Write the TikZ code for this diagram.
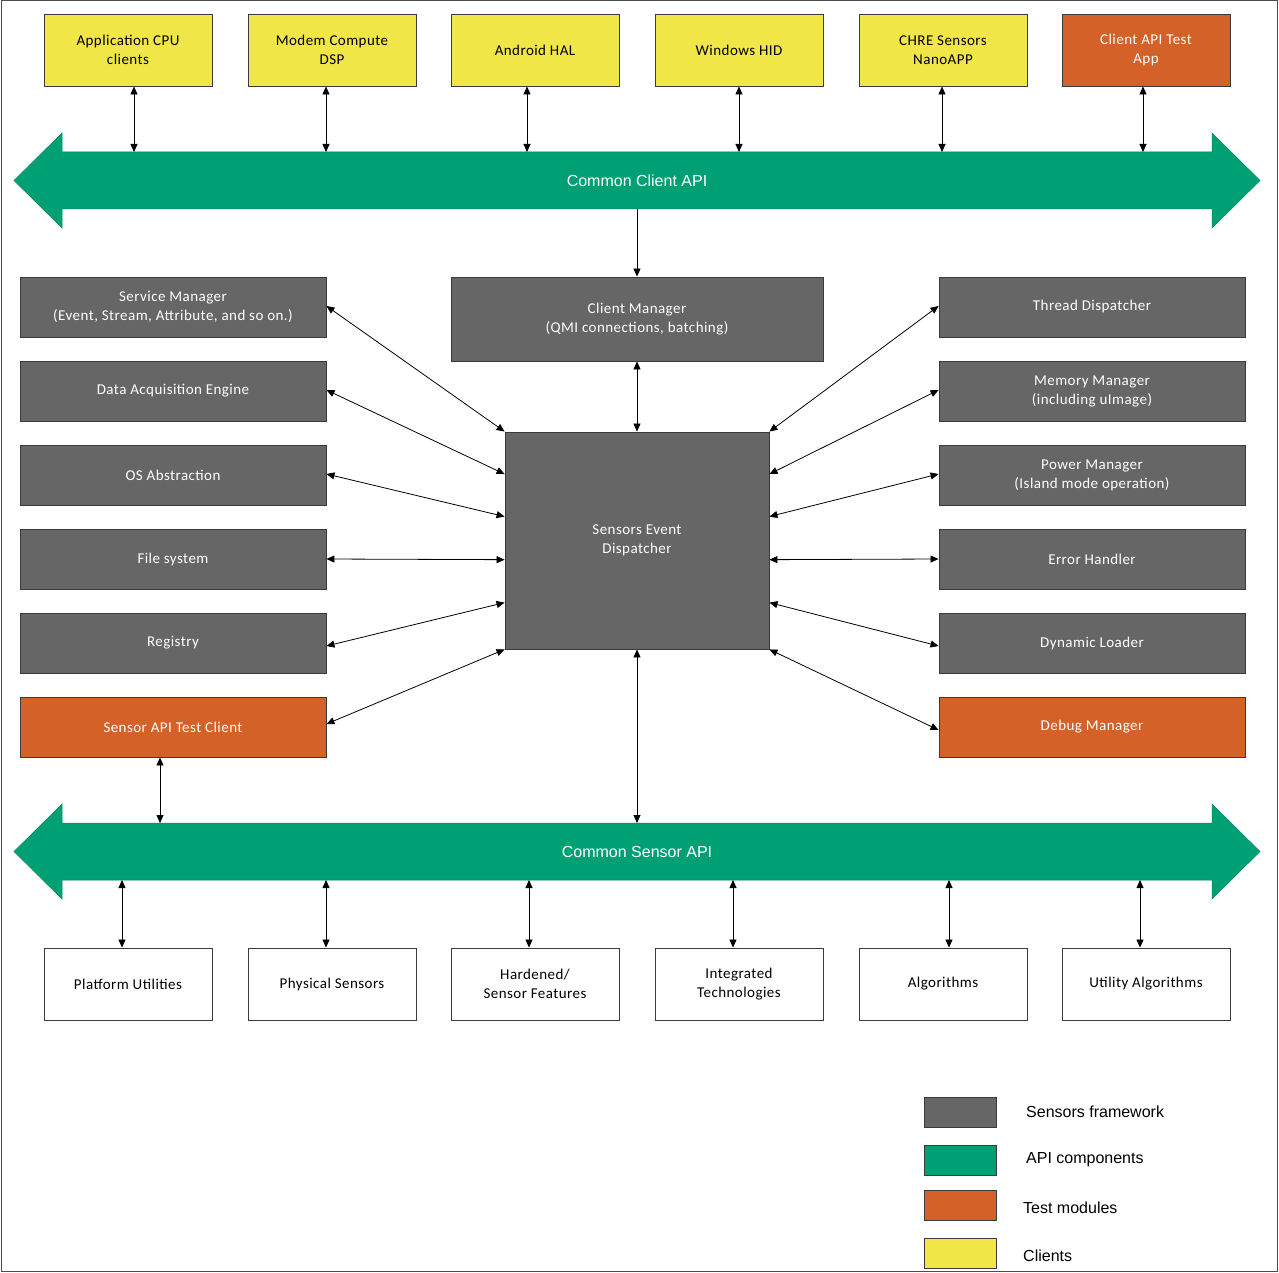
\documentclass[tikz,border=0pt]{standalone}
\usepackage{fontspec}
\setmainfont{Carlito}
\newfontfamily\boxfont{Carlito}[LetterSpace=3]
\newfontfamily\arialfont{Liberation Sans}
\usetikzlibrary{arrows.meta,calc}
\definecolor{cyel}{HTML}{F1E647}
\definecolor{corg}{HTML}{D46127}
\definecolor{cgry}{HTML}{666666}
\definecolor{cgrn}{HTML}{00A074}
\definecolor{cedge}{HTML}{3A3A3A}
\begin{document}
\begin{tikzpicture}[x=1pt,y=-1pt,
  box/.style={draw=cedge, line width=0.9pt, minimum width=168pt, minimum height=72pt,
    align=center, font=\boxfont\fontsize{15}{19}\selectfont, inner sep=0pt},
  client/.style={box, fill=cyel, text=black},
  testbox/.style={fill=corg, text=white},
  lib/.style={box, fill=white, text=black},
  fw/.style={draw=cedge, line width=0.9pt, fill=cgry, text=white, minimum width=306pt,
    minimum height=60pt, align=center, font=\boxfont\fontsize{15}{19}\selectfont, inner sep=0pt},
  apilabel/.style={text=white, font=\arialfont\fontsize{16}{19}\selectfont, inner sep=0pt},
  bigarrow/.style={fill=cgrn, draw=cgrn!85!black, line width=0.5pt},
  conn/.style={line width=0.8pt, {Triangle[length=8pt,width=7pt]}-{Triangle[length=8pt,width=7pt]}},
  oneway/.style={line width=0.8pt, -{Triangle[length=8pt,width=7pt]}},
  legbox/.style={draw=cedge, line width=0.9pt, minimum width=72pt, minimum height=30pt, inner sep=0pt},
  legtext/.style={anchor=west, font=\arialfont\fontsize{16}{19}\selectfont, inner sep=0pt, text=black}
]
\useasboundingbox (0,0) rectangle (1279,1273);
\fill[white] (0,0) rectangle (1279,1273);
\draw[line width=1pt, draw=gray!60!black] (1,1) rectangle (1277,1271);

% top client boxes
\node[client] (app) at (128,50) {Application CPU\\clients};
\node[client] (modem) at (332,50) {Modem Compute\\DSP};
\node[client] (hal) at (535,50) {Android HAL};
\node[client] (hid) at (739,50) {Windows HID};
\node[client] (chre) at (943,50) {CHRE Sensors\\NanoAPP};
\node[client, testbox] (capitest) at (1146,50) {Client API Test\\App};

% Common Client API arrow
\path[bigarrow] (14,180.5) -- (62,133) -- (62,152) -- (1212,152) -- (1212,133) -- (1260,180.5)
  -- (1212,228) -- (1212,209) -- (62,209) -- (62,228) -- cycle;
\node[apilabel] (cca) at (637,180.5) {Common Client API};
\coordinate (ccat1) at (134,152);
\coordinate (ccat2) at (326,152);
\coordinate (ccat3) at (527,152);
\coordinate (ccat4) at (739,152);
\coordinate (ccat5) at (942,152);
\coordinate (ccat6) at (1143,152);
\coordinate (ccab) at (637,209);

\draw[conn] (app.south -| ccat1) -- (ccat1);
\draw[conn] (modem.south -| ccat2) -- (ccat2);
\draw[conn] (hal.south -| ccat3) -- (ccat3);
\draw[conn] (hid.south -| ccat4) -- (ccat4);
\draw[conn] (chre.south -| ccat5) -- (ccat5);
\draw[conn] (capitest.south -| ccat6) -- (ccat6);

% center
\node[fw, minimum width=372pt, minimum height=84pt] (cm) at (637,319) {Client Manager\\(QMI connections, batching)};
\node[fw, minimum width=264pt, minimum height=217pt] (sed) at (637,540.5) {Sensors Event\\Dispatcher};
\draw[oneway] (ccab) -- (cm.north);
\draw[conn] (cm.south) -- (sed.north);

% left column
\node[fw] (sm) at (173,307) {Service Manager\\(Event, Stream, Attribute, and so on.)};
\node[fw] (dae) at (173,391) {Data Acquisition Engine};
\node[fw] (osa) at (173,475) {OS Abstraction};
\node[fw] (fs) at (173,559) {File system};
\node[fw] (reg) at (173,643) {Registry};
\node[fw, testbox] (satc) at (173,727) {Sensor API Test Client};

% right column
\node[fw] (td) at (1092,307) {Thread Dispatcher};
\node[fw] (mm) at (1092,391) {Memory Manager\\(including uImage)};
\node[fw] (pm) at (1092,475) {Power Manager\\(Island mode operation)};
\node[fw] (eh) at (1092,559) {Error Handler};
\node[fw] (dl) at (1092,643) {Dynamic Loader};
\node[fw, testbox] (dm) at (1092,727) {Debug Manager};

% left connectors
\draw[conn] ([yshift=1pt]sm.east) -- (sed.north west);
\draw[conn] ([yshift=1pt]dae.east) -- ($(sed.north west)!0.195!(sed.south west)$);
\draw[conn] ([yshift=1pt]osa.east) -- ($(sed.north west)!0.39!(sed.south west)$);
\draw[conn] (fs.east) -- ($(sed.north west)!0.588!(sed.south west)$);
\draw[conn] ([yshift=-3pt]reg.east) -- ($(sed.north west)!0.785!(sed.south west)$);
\draw[conn] ([yshift=3pt]satc.east) -- (sed.south west);

% right connectors
\draw[conn] ([yshift=1pt]td.west) -- (sed.north east);
\draw[conn] ([yshift=1pt]mm.west) -- ($(sed.north east)!0.195!(sed.south east)$);
\draw[conn] ([yshift=1pt]pm.west) -- ($(sed.north east)!0.39!(sed.south east)$);
\draw[conn] (eh.west) -- ($(sed.north east)!0.588!(sed.south east)$);
\draw[conn] ([yshift=-3pt]dl.west) -- ($(sed.north east)!0.785!(sed.south east)$);
\draw[conn] ([yshift=-3pt]dm.west) -- (sed.south east);

% Common Sensor API arrow
\path[bigarrow] (14,851.5) -- (62,804) -- (62,823) -- (1212,823) -- (1212,804) -- (1260,851.5)
  -- (1212,899) -- (1212,880) -- (62,880) -- (62,899) -- cycle;
\node[apilabel] (csa) at (637,851.5) {Common Sensor API};
\coordinate (csat1) at (160,823);
\coordinate (csat2) at (637,823);
\coordinate (csab1) at (122,880);
\coordinate (csab2) at (326,880);
\coordinate (csab3) at (529,880);
\coordinate (csab4) at (733,880);
\coordinate (csab5) at (949,880);
\coordinate (csab6) at (1140,880);

\draw[conn] (satc.south -| csat1) -- (csat1);
\draw[conn] (sed.south) -- (csat2);

% bottom boxes
\node[lib] (pu) at (128,984) {Platform Utilities};
\node[lib] (ps) at (332,984) {Physical Sensors};
\node[lib] (hsf) at (535,984) {Hardened/\\Sensor Features};
\node[lib] (it) at (739,984) {Integrated\\Technologies};
\node[lib] (alg) at (943,984) {Algorithms};
\node[lib] (ua) at (1146,984) {Utility Algorithms};

\draw[conn] (csab1) -- (pu.north -| csab1);
\draw[conn] (csab2) -- (ps.north -| csab2);
\draw[conn] (csab3) -- (hsf.north -| csab3);
\draw[conn] (csab4) -- (it.north -| csab4);
\draw[conn] (csab5) -- (alg.north -| csab5);
\draw[conn] (csab6) -- (ua.north -| csab6);

% legend
\node[legbox, fill=cgry] (lg1) at (960,1112) {};
\node[legbox, fill=cgrn] (lg2) at (960,1160) {};
\node[legbox, fill=corg] (lg3) at (960,1205) {};
\node[legbox, fill=cyel] (lg4) at (960,1253) {};
\node[legtext] (lt1) at (1026,1112) {Sensors framework};
\node[legtext] (lt2) at (1026,1160) {API components};
\node[legtext] (lt3) at (1023,1208) {Test modules};
\node[legtext] (lt4) at (1023,1256) {Clients};
\end{tikzpicture}
\end{document}
